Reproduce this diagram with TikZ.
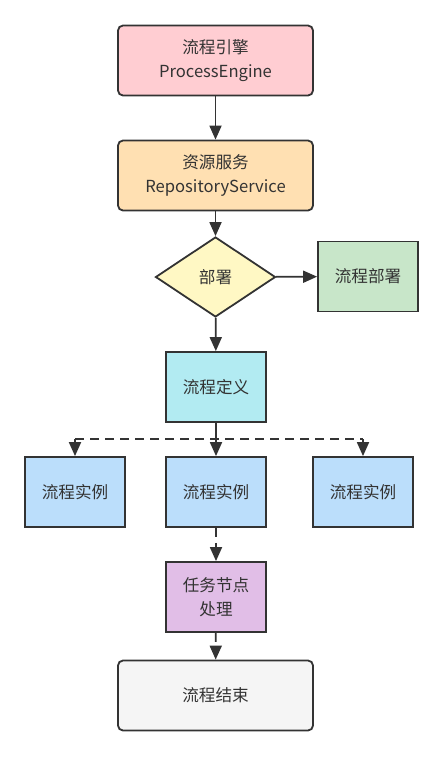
\documentclass[tikz,border=0pt]{standalone}
\usepackage{fontspec}
\setmainfont{Noto Sans CJK SC}
\usetikzlibrary{arrows.meta,shapes.geometric}
\definecolor{cpink}{HTML}{FFCDD2}
\definecolor{corange}{HTML}{FFE0B2}
\definecolor{cyellow}{HTML}{FFF8C4}
\definecolor{cgreen}{HTML}{C8E6C9}
\definecolor{ccyan}{HTML}{B2EBF2}
\definecolor{cblue}{HTML}{BBDEFB}
\definecolor{cpurple}{HTML}{E1BEE7}
\definecolor{cgray}{HTML}{F5F5F5}
\definecolor{cline}{HTML}{333333}
\begin{document}
\begin{tikzpicture}[x=1pt,y=-1pt,
  box/.style={draw=cline,line width=1.8pt,minimum width=#1,minimum height=70pt,inner sep=0pt,align=center,font=\fontsize{16.6pt}{24pt}\selectfont,text=cline},
  box/.default=100pt,
  rbox/.style={box=195pt,rounded corners=5pt},
  arr/.style={draw=cline,line width=1.8pt,-{Triangle[width=12pt,length=14pt]}},
  darr/.style={arr,dash pattern=on 9pt off 6pt}]
\useasboundingbox (0,0) rectangle (443,758);
\fill[white] (0,0) rectangle (443,758);
\node[rbox,fill=cpink] (pe) at (215.5,60.5) {流程引擎\\ProcessEngine};
\node[rbox,fill=corange] (rs) at (215.5,175.5) {资源服务\\RepositoryService};
\node[diamond,draw=cline,line width=1.8pt,fill=cyellow,minimum width=120pt,minimum height=80pt,inner sep=0pt,aspect=1.5,font=\fontsize{16.6pt}{24pt}\selectfont,text=cline] (dp) at (215.5,277) {部署};
\node[box,fill=cgreen] (lb) at (368,276.5) {流程部署};
\node[box,fill=ccyan] (df) at (216,387) {流程定义};
\node[box,fill=cblue] (i1) at (75,492) {流程实例};
\node[box,fill=cblue] (i2) at (216,492) {流程实例};
\node[box,fill=cblue] (i3) at (363,492) {流程实例};
\node[box,fill=cpurple] (tk) at (216,597) {任务节点\\处理};
\node[rbox,fill=cgray] (ed) at (215.5,695.5) {流程结束};
\coordinate (jl) at (75,439);
\coordinate (jr) at (363,439);
\draw[arr] (pe) -- (rs);
\draw[arr] (rs) -- (dp);
\draw[arr] (dp) -- (lb);
\draw[arr] (dp) -- (df);
\draw[arr] (df) -- (i2);
\draw[cline,line width=1.8pt,dash pattern=on 9pt off 6pt] (jl) -- (jr);
\draw[arr] (jl) -- (i1);
\draw[arr] (jr) -- (i3);
\draw[darr] (i2) -- (tk);
\draw[darr] (tk) -- (ed);
\end{tikzpicture}
\end{document}
